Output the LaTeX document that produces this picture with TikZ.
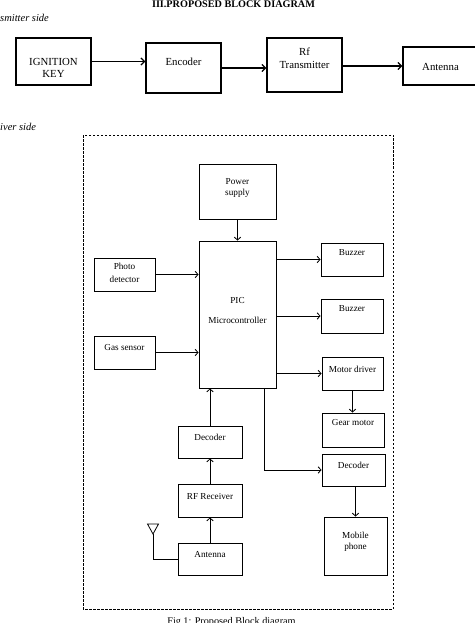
\documentclass[tikz,border=0pt]{standalone}
\usepackage{fontspec}
\setmainfont{Liberation Serif}
\usetikzlibrary{arrows.meta,positioning}
\tikzset{
	blk/.style = {rectangle, draw=black, inner sep=0pt, align=center},
	blk_t/.style = {blk, line width=1.3pt,
		font=\fontsize{10.8}{12}\selectfont},% transmitter side block
	blk_r/.style = {blk, line width=0.8pt,
		font=\fontsize{9.2}{11}\selectfont},% receiver side block
	bx/.style n args = {3}{minimum width=#1, text height=#2, text depth=#3},% width, text height, text depth
	link_t/.style = {-{Straight Barb[length=3.5pt,width=7pt]}, line width=1.3pt},
	link_r/.style = {-{Straight Barb[length=3pt,width=6.5pt]}, line width=0.8pt},
	side/.style = {anchor=base west, inner sep=0pt,
		font=\fontsize{10.5}{12}\selectfont\itshape}
}
\begin{document}
\begin{tikzpicture}[x=1pt, y=-1pt]
\useasboundingbox (0,0) rectangle (474,623);
\node [anchor=base, inner sep=0pt, font=\fontsize{10.2}{12}\selectfont\bfseries] (title) at (233.5,7.5) {III.PROPOSED BLOCK DIAGRAM};
\node [side] (txside) at (0,22) {smitter side};
\node [side] (rxside) at (0,130) {iver side};
% transmitter side
\node [blk_t, bx={75}{39.5}{7.5}] (ign) at (53.5,61.5) {IGNITION\\KEY};
\node [blk_t, bx={75}{22.5}{27.5}] (enc) at (183.5,68) {Encoder};
\node [blk_t, bx={75}{30.5}{23.5}] (rftx) at (304.5,65) {Rf\\[1pt]Transmitter};
\node [blk_t, bx={75}{23.5}{14.5}] (antT) at (440.5,66) {Antenna};
\draw [link_t] (ign.east) -- (ign.east -| enc.west);
\draw [link_t] (enc.east) -- (enc.east -| rftx.west);
\draw [link_t] (rftx.east |- antT.west) -- (antT.west);
% receiver side
\draw [line width=0.8pt, dash pattern=on 2.5pt off 1.5pt] (83,135) rectangle (393,609);
\node [blk_r, bx={77}{31}{24}] (pow) at (237.5,191.5) {Power\\supply};
\node [blk_r, bx={77}{82}{65}] (pic) at (237.5,314.5) {PIC\\[9pt]Microcontroller};
\node [blk_r, bx={61}{24}{9}] (pd) at (124.5,274.5) {Photo\\[2pt]detector};
\node [blk_r, bx={61}{14}{19}] (gas) at (124.5,352.5) {Gas sensor};
\node [blk_r, bx={62}{12}{21}] (bz1) at (352,259.5) {Buzzer};
\node [blk_r, bx={62}{12}{22}] (bz2) at (352,316) {Buzzer};
\node [blk_r, bx={61}{15}{18}] (md) at (352.5,373.5) {Motor driver};
\node [blk_r, bx={62}{12}{22}] (gm) at (353,430) {Gear motor};
\node [blk_r, bx={63}{14}{18}] (decR) at (353.5,470) {Decoder};
\node [blk_r, bx={63}{32}{26}] (mob) at (355.5,546) {Mobile\\phone};
\node [blk_r, bx={64}{14}{18}] (decL) at (210,442) {Decoder};
\node [blk_r, bx={64}{15}{18}] (rfrx) at (210,500.5) {RF Receiver};
\node [blk_r, bx={64}{14}{18}] (antR) at (210,559) {Antenna};
\coordinate (pout) at ([xshift=-12pt]pic.south east);
\coordinate (aer) at (153,534);
\draw [link_r] (pow.south) -- (pic.north);
\draw [link_r] (pd.east) -- (pd.east -| pic.west);
\draw [link_r] (gas.east) -- (gas.east -| pic.west);
\draw [link_r] (bz1.west -| pic.east) -- (bz1.west);
\draw [link_r] (bz2.west -| pic.east) -- (bz2.west);
\draw [link_r] (md.west -| pic.east) -- (md.west);
\draw [link_r] (md.south) -- (md.south |- gm.north);
\draw [link_r] (pout) |- (decR.west);
\draw [link_r] (mob.north |- decR.south) -- (mob.north);
\draw [link_r] (antR.north) -- (rfrx.south);
\draw [link_r] (rfrx.north) -- (decL.south);
\draw [link_r] (decL.north) -- (decL.north |- pic.south);
\draw [line width=0.8pt] (antR.west) -| (aer);
\draw [line width=0.8pt] (aer) -- ++(-5.5,-10) -- ++(11,0) -- cycle;
\node [anchor=base, inner sep=0pt, font=\fontsize{10.2}{12}\selectfont] (cap) at (231.5,624) {Fig 1: Proposed Block diagram};
\end{tikzpicture}
\end{document}
